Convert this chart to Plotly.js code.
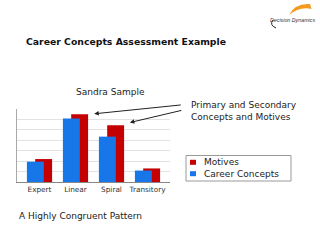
<!DOCTYPE html>
<html><head><meta charset="utf-8">
<script src="https://cdn.plot.ly/plotly-3.0.1.min.js"></script>
<style>html,body{margin:0;padding:0;background:#fff;}#c{width:320px;height:240px;}</style>
</head><body><div id="c"></div>
<script>
const categories = ['Expert', 'Linear', 'Spiral', 'Transitory'];
const motives = [2.2, 6.5, 5.45, 1.3];
const careerConcepts = [1.95, 6.1, 4.35, 1.1];
const seriesNames = ['Motives', 'Career Concepts'];
const seriesColors = ['#c40000', '#1877e8'];

// plot area in pixels: x 17..170, y 109..182
const L = 17, R = 170, T = 109, B = 182;
const px = x => (x - L) / (R - L);
const py = y => (B - y) / (B - T);

const FONT = 'DejaVu Sans, Verdana, sans-serif';

const traces = [
  {type: 'bar', name: seriesNames[0], x: categories, y: motives,
   marker: {color: seriesColors[0]}, width: 0.47, offset: -0.12},
  {type: 'bar', name: seriesNames[1], x: categories, y: careerConcepts,
   marker: {color: seriesColors[1]}, width: 0.47, offset: -0.35}
];

const P = (x, y) => px(x) + ',' + py(y);
const swoosh = 'M' + P(289, 15) + ' Q' + P(295, 3) + ' ' + P(310, 4) + ' L' + P(311.5, 9) +
  ' Q' + P(300, 6) + ' ' + P(289, 15) + ' Z';
const swoosh2 = 'M' + P(273, 20) + ' Q' + P(269, 25) + ' ' + P(276, 28);

const annotations = [
  {text: 'Sandra Sample', xref: 'paper', yref: 'paper', x: px(110.5), y: py(92), showarrow: false,
   xanchor: 'center', yanchor: 'middle', font: {family: FONT, size: 9, color: '#222'}},
  {text: 'A Highly Congruent Pattern', xref: 'paper', yref: 'paper', x: px(17), y: py(216), showarrow: false,
   xanchor: 'left', yanchor: 'middle', font: {family: FONT, size: 9, color: '#222'}},
  {text: 'Primary and Secondary', xref: 'paper', yref: 'paper', x: px(188.5), y: py(104.7), showarrow: false,
   xanchor: 'left', yanchor: 'middle', font: {family: FONT, size: 9, color: '#222'}},
  {text: 'Concepts and Motives', xref: 'paper', yref: 'paper', x: px(188.5), y: py(117.3), showarrow: false,
   xanchor: 'left', yanchor: 'middle', font: {family: FONT, size: 9, color: '#222'}},
  {text: '', x: 1.52, y: 6.54, xref: 'x', yref: 'y', showarrow: true, ax: 88, ay: -9,
   arrowhead: 2, arrowsize: 0.9, arrowwidth: 1, arrowcolor: '#222', standoff: 0},
  {text: '', x: 2.51, y: 5.7, xref: 'x', yref: 'y', showarrow: true, ax: 53, ay: -12.5,
   arrowhead: 2, arrowsize: 0.9, arrowwidth: 1, arrowcolor: '#222', standoff: 0},
  {text: '<i>Decision Dynamics</i>', xref: 'paper', yref: 'paper', x: px(292.5), y: py(19.5), showarrow: false,
   xanchor: 'center', yanchor: 'middle', font: {family: 'Liberation Sans Narrow, Liberation Sans, sans-serif', size: 5.3, color: '#333'}}
];

const shapes = [
  {type: 'path', xref: 'paper', yref: 'paper', path: swoosh, fillcolor: '#f39a1e', line: {width: 0}},
  {type: 'path', xref: 'paper', yref: 'paper', path: swoosh2, line: {width: 1, color: '#222'}},
  // legend box
  {type: 'rect', xref: 'paper', yref: 'paper', x0: px(186), x1: px(291), y0: py(155.5), y1: py(181),
   line: {color: '#999', width: 1}, fillcolor: '#fff'}
];

// legend entries built from series names / colours
const legendRows = [162.3, 173.7];
seriesNames.forEach((name, i) => {
  const yc = legendRows[i];
  shapes.push({type: 'rect', xref: 'paper', yref: 'paper', x0: px(190), x1: px(196), y0: py(yc - 2.5), y1: py(yc + 2.5),
               fillcolor: seriesColors[i], line: {width: 0}});
  annotations.push({text: name, xref: 'paper', yref: 'paper', x: px(201.5), y: py(yc), showarrow: false,
                    xanchor: 'left', yanchor: 'middle', font: {family: FONT, size: 9, color: '#222'}});
});

const layout = {
  width: 320, height: 240,
  margin: {l: L, r: 320 - R, t: T, b: 240 - B, pad: 0, autoexpand: false},
  paper_bgcolor: '#fff', plot_bgcolor: '#fff',
  barmode: 'overlay',
  showlegend: false,
  font: {family: FONT, size: 7, color: '#333'},
  title: {text: '<b>Career Concepts Assessment Example</b>', xref: 'container', yref: 'container',
          x: 26 / 320, xanchor: 'left', y: 1 - 42 / 240, yanchor: 'middle',
          font: {family: FONT, size: 9.3, color: '#111'}},
  xaxis: {range: [-0.625, 3.625], showline: true, linecolor: '#888', linewidth: 1,
          showgrid: false, ticks: '', tickangle: 0, tickfont: {family: FONT, size: 7.3, color: '#333'}, fixedrange: true},
  yaxis: {range: [0, 7], dtick: 1, showline: true, linecolor: '#aaa', linewidth: 1,
          showgrid: true, gridcolor: '#e2e2e2', zeroline: false, showticklabels: false, ticks: '', fixedrange: true},
  annotations: annotations,
  shapes: shapes
};

Plotly.newPlot('c', traces, layout, {staticPlot: true, displayModeBar: false});
</script></body></html>
